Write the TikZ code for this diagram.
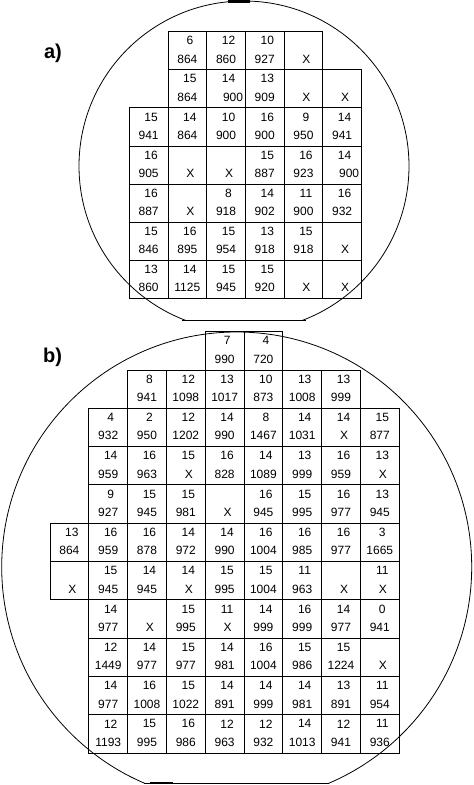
\documentclass[tikz,border=0pt]{standalone}
\usepackage{fontspec}
\setmainfont{Liberation Sans}
\begin{document}
\begin{tikzpicture}[x=1pt,y=-1pt,
  cellA/.style={draw, line width=0.9pt, minimum width=38.7pt, minimum height=38.1pt, inner sep=0pt, outer sep=0pt},
  cellB/.style={draw, line width=0.9pt, minimum width=38.8pt, minimum height=38.3pt, inner sep=0pt, outer sep=0pt},
  num/.style={font=\fontsize{12}{13}\selectfont, inner sep=0pt, anchor=center},
  tag/.style={font=\fontsize{20}{24}\selectfont\bfseries, inner sep=0pt},
  wafer/.style={line width=0.8pt},
  notch/.style={line width=2.5pt}]
\useasboundingbox (0,0) rectangle (474,785);
\fill[white] (0,0) rectangle (474,785);

% ---------- wafer a ----------
\begin{scope}
  \clip (0,-5) rectangle (474,320);
  \draw[wafer] (244,166) circle[radius=165];
\end{scope}
\coordinate (fa1) at (182,320);
\coordinate (fa2) at (306,320);
\draw[wafer] (fa1) -- (fa2);
\coordinate (na1) at (228,1.5);
\coordinate (na2) at (250,1.5);
\draw[notch] (na1) -- (na2);

\node[tag] (la) at (53,53) {a)};

\foreach \r/\c/\t/\b/\s in {
 0/1/6/864/0, 0/2/12/860/0, 0/3/10/927/0, 0/4/{}/X/3,
 1/1/15/864/0, 1/2/14/900/7, 1/3/13/909/0, 1/4/{}/X/3, 1/5/{}/X/3,
 2/0/15/941/0, 2/1/14/864/0, 2/2/10/900/0, 2/3/16/900/0, 2/4/9/950/0, 2/5/14/941/0,
 3/0/16/905/0, 3/1/{}/X/3, 3/2/{}/X/3, 3/3/15/887/0, 3/4/16/923/0, 3/5/14/900/7,
 4/0/16/887/0, 4/1/{}/X/3, 4/2/8/918/0, 4/3/14/902/0, 4/4/11/900/0, 4/5/16/932/0,
 5/0/15/846/0, 5/1/16/895/0, 5/2/15/954/0, 5/3/13/918/0, 5/4/15/918/0, 5/5/{}/X/3,
 6/0/13/860/0, 6/1/14/1125/0, 6/2/15/945/0, 6/3/15/920/0, 6/4/{}/X/3, 6/5/{}/X/3}{
  \node[cellA] (a-\r-\c) at ({129.3+(\c+0.5)*38.7},{31.7+(\r+0.5)*38.1}) {};
  \node[num] (a-\r-\c-t) at ([xshift=2.5pt,yshift=10pt]a-\r-\c.center) {\t};
  \node[num] (a-\r-\c-b) at ([xshift=\s pt,yshift=-8.4pt]a-\r-\c.center) {\b};
}

% ---------- wafer b ----------
\begin{scope}
  \clip (0,321) rectangle (474,783);
  \draw[wafer] (236.7,567) circle[radius=235];
\end{scope}
\coordinate (fb1) at (144.1,783);
\coordinate (fb2) at (329.3,783);
\draw[wafer] (fb1) -- (fb2);
\coordinate (nb1) at (150,783);
\coordinate (nb2) at (173,783);
\draw[notch] (nb1) -- (nb2);

\node[tag] (lb) at (52.5,357.5) {b)};

\foreach \r/\c/\t/\b/\s in {
 0/4/7/990/0, 0/5/4/720/0,
 1/2/8/941/0, 1/3/12/1098/0, 1/4/13/1017/0, 1/5/10/873/0, 1/6/13/1008/0, 1/7/13/999/0,
 2/1/4/932/0, 2/2/2/950/0, 2/3/12/1202/0, 2/4/14/990/0, 2/5/8/1467/0, 2/6/14/1031/0, 2/7/14/X/3, 2/8/15/877/0,
 3/1/14/959/0, 3/2/16/963/0, 3/3/15/X/3, 3/4/16/828/0, 3/5/14/1089/0, 3/6/13/999/0, 3/7/16/959/0, 3/8/13/X/3,
 4/1/9/927/0, 4/2/15/945/0, 4/3/15/981/0, 4/4/{}/X/3, 4/5/16/945/0, 4/6/15/995/0, 4/7/16/977/0, 4/8/13/945/0,
 5/0/13/864/0, 5/1/16/959/0, 5/2/16/878/0, 5/3/14/972/0, 5/4/14/990/0, 5/5/16/1004/0, 5/6/16/985/0, 5/7/16/977/0, 5/8/3/1665/0,
 6/0/{}/X/3, 6/1/15/945/0, 6/2/14/945/0, 6/3/14/X/3, 6/4/15/995/0, 6/5/15/1004/0, 6/6/11/963/0, 6/7/{}/X/3, 6/8/11/X/3,
 7/1/14/977/0, 7/2/{}/X/3, 7/3/15/995/0, 7/4/11/X/3, 7/5/14/999/0, 7/6/16/999/0, 7/7/14/977/0, 7/8/0/941/0,
 8/1/12/1449/0, 8/2/14/977/0, 8/3/15/977/0, 8/4/14/981/0, 8/5/16/1004/0, 8/6/15/986/0, 8/7/15/1224/0, 8/8/{}/X/3,
 9/1/14/977/0, 9/2/16/1008/0, 9/3/15/1022/0, 9/4/14/891/0, 9/5/14/999/0, 9/6/14/981/0, 9/7/13/891/0, 9/8/11/954/0,
 10/1/12/1193/0, 10/2/15/995/0, 10/3/16/986/0, 10/4/12/963/0, 10/5/12/932/0, 10/6/14/1013/0, 10/7/12/941/0, 10/8/11/936/0}{
  \node[cellB] (b-\r-\c) at ({50+(\c+0.5)*38.8},{331.7+(\r+0.5)*38.3}) {};
  \node[num] (b-\r-\c-t) at ([xshift=2.5pt,yshift=10pt]b-\r-\c.center) {\t};
  \node[num] (b-\r-\c-b) at ([xshift=\s pt,yshift=-8.4pt]b-\r-\c.center) {\b};
}
\end{tikzpicture}
\end{document}
